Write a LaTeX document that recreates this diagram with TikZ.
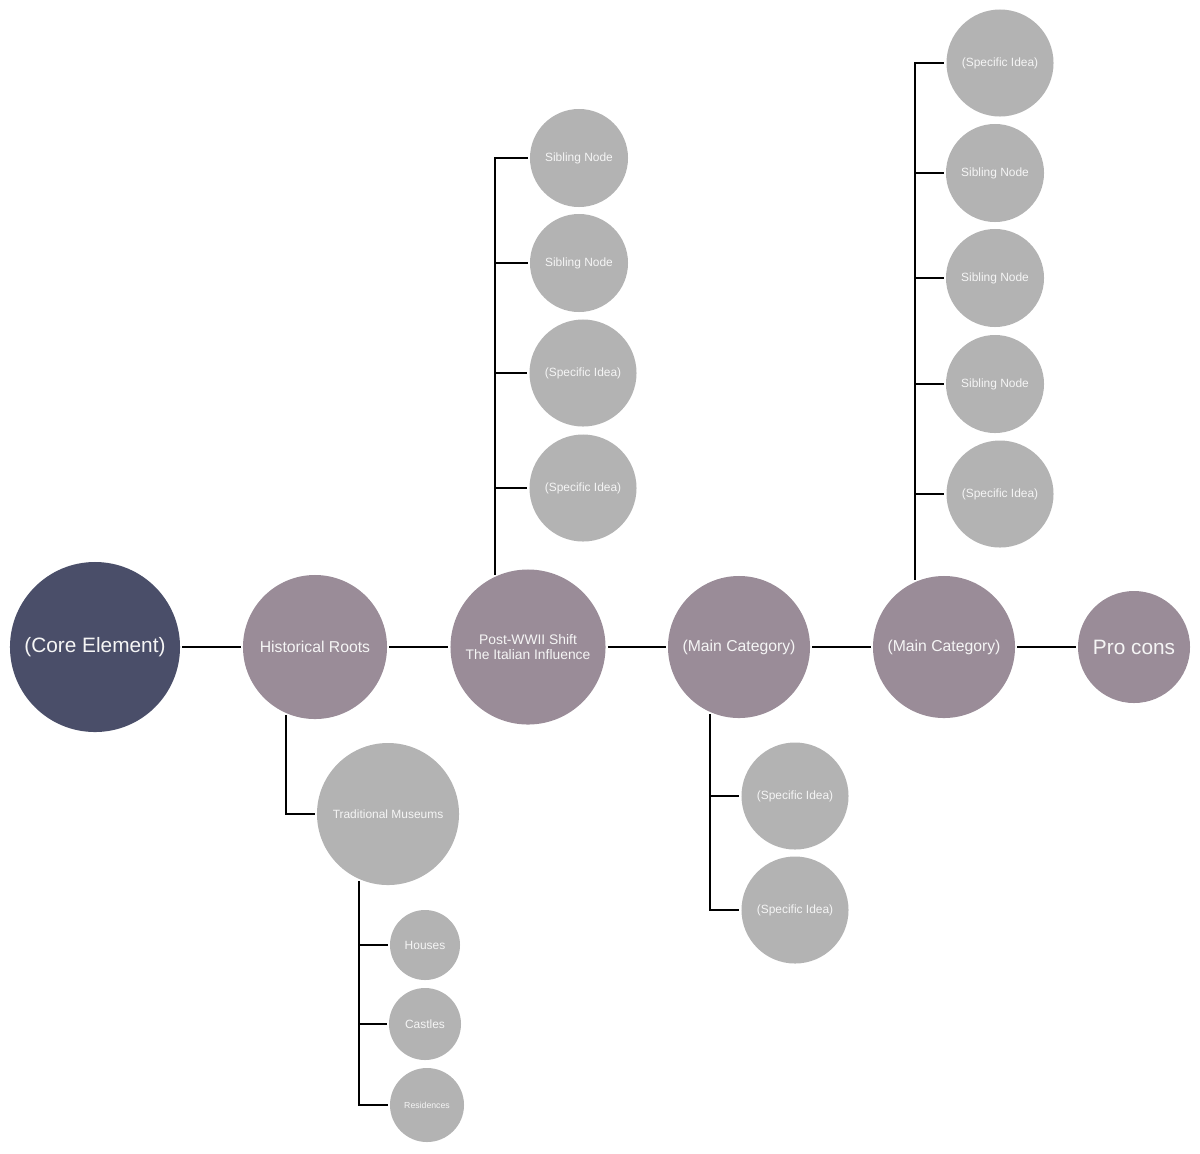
\documentclass[tikz,border=0pt]{standalone}
\usepackage{fontspec}
\setmainfont{Liberation Sans}
\usetikzlibrary{positioning,calc}
\definecolor{coreblue}{HTML}{4A4E69}
\definecolor{mauve}{HTML}{9A8C98}
\definecolor{leafgray}{HTML}{B3B3B3}

\begin{document}
\begin{tikzpicture}[x=0.025cm,y=-0.025cm,
  every node/.style={circle,inner sep=0pt,align=center,text=white!96!black,},%
  e/.style={line width=1.4pt,shorten <=1.4pt,shorten >=1.4pt,},%
  cr/.style={fill=coreblue,minimum size=4.25cm,%
    font=\fontsize{14.8}{17}\selectfont,},%
  mn/.style={fill=mauve,font=\fontsize{11.2}{13}\selectfont,},%
  pc/.style={fill=mauve,minimum size=2.8cm,%
    font=\fontsize{14.8}{17}\selectfont,},%
  lf/.style={fill=leafgray,font=\fontsize{8.5}{10}\selectfont,},%
  sib/.style={lf,minimum size=2.45cm,},%
  spec/.style={lf,minimum size=2.675cm,},%
  ]
  \useasboundingbox (0,0) rectangle (1200,1153);

  % main row
  \node (core) [cr] at (95,647) {(Core Element)};
  \node (hist) [mn,minimum size=3.6cm] at (315,647) {Historical Roots};
  \node (post) [mn,minimum size=3.875cm,%
    font=\fontsize{9.85}{10.6}\selectfont] at (528,647)
    {Post-WWII Shift\\The Italian Influence};
  \node (mainA) [mn,minimum size=3.55cm] at (739,647) {(Main Category)};
  \node (mainB) [mn,minimum size=3.55cm] at (944,647) {(Main Category)};
  \node (procons) [pc] at (1134,647) {Pro cons};

  % below historical roots
  \node (museums) [lf,minimum size=3.55cm] at (388,814) {Traditional Museums};
  \node (houses) [lf,minimum size=1.75cm] at (425,945) {Houses};
  \node (castles) [lf,minimum size=1.8cm] at (425,1024) {Castles};
  \node (resid) [lf,minimum size=1.85cm,%
    font=\fontsize{6.2}{7}\selectfont] at (427,1105) {Residences};

  % above post-wwii
  \node (postA) [sib] at (579,158) {Sibling Node};
  \node (postB) [sib] at (579,263) {Sibling Node};
  \node (postC) [spec] at (583,373) {(Specific Idea)};
  \node (postD) [spec] at (583,488) {(Specific Idea)};

  % below first main category
  \node (mainAa) [spec] at (795,796) {(Specific Idea)};
  \node (mainAb) [spec] at (795,910) {(Specific Idea)};

  % above second main category
  \node (mainBa) [spec] at (1000,63) {(Specific Idea)};
  \node (mainBb) [sib] at (995,173) {Sibling Node};
  \node (mainBc) [sib] at (995,278) {Sibling Node};
  \node (mainBd) [sib] at (995,384) {Sibling Node};
  \node (mainBe) [spec] at (1000,494) {(Specific Idea)};

  \draw [e] (core) -- (hist);
  \draw [e] (hist) -- (post);
  \draw [e] (post) -- (mainA);
  \draw [e] (mainA) -- (mainB);
  \draw [e] (mainB) -- (procons);

  \draw [e] (hist.246) |- (museums.west);
  \draw [e] (museums.246) |- (houses.west);
  \draw [e] (museums.246) |- (castles.west);
  \draw [e] (museums.246) |- (resid.west);

  \draw [e] (post.115) |- (postA.west);
  \draw [e] (post.115) |- (postB.west);
  \draw [e] (post.115) |- (postC.west);
  \draw [e] (post.115) |- (postD.west);

  \draw [e] (mainA.246) |- (mainAa.west);
  \draw [e] (mainA.246) |- (mainAb.west);

  \draw [e] (mainB.114) |- (mainBa.west);
  \draw [e] (mainB.114) |- (mainBb.west);
  \draw [e] (mainB.114) |- (mainBc.west);
  \draw [e] (mainB.114) |- (mainBd.west);
  \draw [e] (mainB.114) |- (mainBe.west);
\end{tikzpicture}
\end{document}
